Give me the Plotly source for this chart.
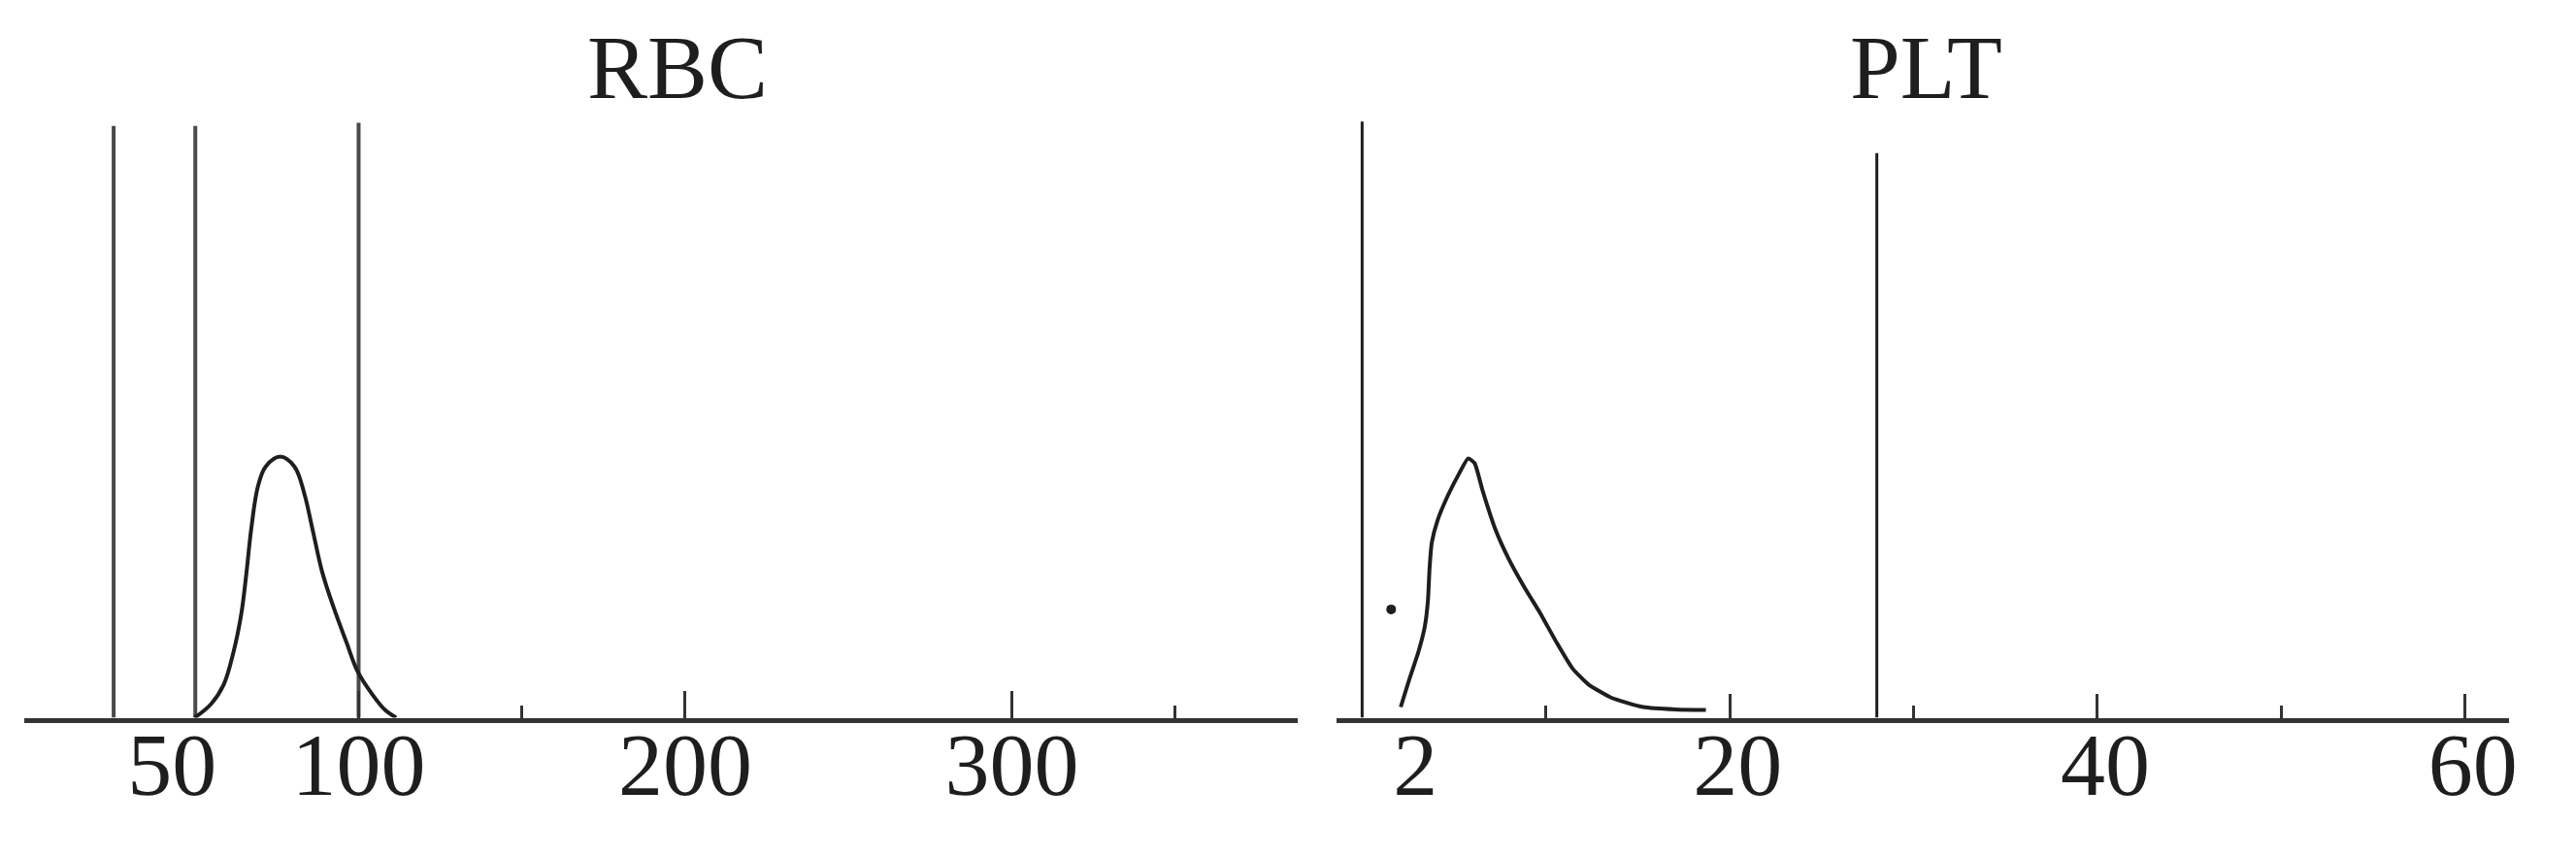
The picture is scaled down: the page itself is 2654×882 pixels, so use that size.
import plotly.graph_objects as go

# RBC histogram (cell volume, fL)
rbc_size = [49.8, 54.8, 58.7, 61.7, 64.1, 65.6, 67.1, 69.1, 71.5, 76.0, 80.4,
            83.4, 85.9, 88.8, 92.3, 96.3, 99.7, 104.1, 108.1, 111.5]
rbc_count = [0.0, 2.3, 5.6, 11.1, 17.6, 24.2, 31.8, 38.9, 42.4, 44.1, 42.4,
             37.8, 31.8, 24.7, 18.7, 12.7, 7.8, 4.0, 1.3, 0.0]
rbc_discriminators = [25, 50, 100]
rbc_discriminator_tops = [100.0, 100.0, 100.5]
rbc_tick_vals = [100, 200, 300]
rbc_minor_vals = [150, 350]

# PLT histogram
plt_size = [2.10, 2.54, 3.06, 3.41, 3.58, 3.67, 3.79, 4.11, 4.63, 5.25, 5.77,
            6.12, 6.56, 7.25, 7.96, 8.83, 9.70, 10.58, 11.45, 12.32, 13.54,
            15.29, 17.04, 18.70]
plt_count = [1.8, 6.2, 11.1, 15.4, 19.8, 25.3, 29.6, 33.4, 37.3, 41.1, 43.8,
             43.0, 38.3, 31.8, 26.9, 22.0, 17.6, 12.7, 8.3, 5.6, 3.4,
             1.8, 1.4, 1.3]
plt_discriminators = [0, 28]
plt_discriminator_tops = [100.7, 95.4]
plt_dot_x = [1.58]
plt_dot_y = [18.3]
plt_tick_vals = [20, 40, 60]
plt_minor_vals = [10, 30, 50]

FONT = "Liberation Serif, Times New Roman, serif"
INK = "#1e1e1e"
AXIS = "#333"

# the page body adds an 8px margin, so the figure is 8px smaller each way
W, H, OFF = 2646, 874, 8


def fx(px):
    return (px - OFF) / W


def fy(py):
    return 1 - (py - OFF) / H


def vlines(xs, tops):
    x, y = [], []
    for xv, top in zip(xs, tops):
        x += [xv, xv, None]
        y += [0, top, None]
    return x, y


fig = go.Figure()

vx, vy = vlines(rbc_discriminators, rbc_discriminator_tops)
fig.add_trace(go.Scatter(x=vx, y=vy, mode="lines", xaxis="x", yaxis="y",
                         line=dict(color="#4a4a4a", width=4)))
fig.add_trace(go.Scatter(x=rbc_size, y=rbc_count, mode="lines", xaxis="x", yaxis="y",
                         line=dict(color=INK, width=4, shape="spline", smoothing=1.0)))

vx, vy = vlines(plt_discriminators, plt_discriminator_tops)
fig.add_trace(go.Scatter(x=vx, y=vy, mode="lines", xaxis="x2", yaxis="y2",
                         line=dict(color=INK, width=3)))
fig.add_trace(go.Scatter(x=plt_size, y=plt_count, mode="lines", xaxis="x2", yaxis="y2",
                         line=dict(color=INK, width=4, shape="spline", smoothing=0.5)))
fig.add_trace(go.Scatter(x=plt_dot_x, y=plt_dot_y, mode="markers", xaxis="x2", yaxis="y2",
                         marker=dict(color=INK, size=10)))

# empty traces so the label-only overlay axes get drawn
fig.add_trace(go.Scatter(x=[50], y=[None], xaxis="x3", yaxis="y", hoverinfo="skip"))
fig.add_trace(go.Scatter(x=[2], y=[None], xaxis="x4", yaxis="y2", hoverinfo="skip"))

tick_font = dict(family=FONT, size=92, color=INK)
axis_common = dict(
    showgrid=False, zeroline=False, showline=True, linewidth=4.5, linecolor=AXIS,
    ticks="inside", tickwidth=3, tickcolor=AXIS, tickfont=tick_font,
    tickmode="array", ticklabelstandoff=-36, fixedrange=True,
)
label_only = dict(
    side="bottom", showgrid=False, zeroline=False, showline=False, ticks="",
    tickmode="array", tickfont=tick_font, ticklabelstandoff=-14, fixedrange=True,
)
ydom = [fy(739.5), fy(99.15)]
rbc_range = [-2.5, 387.5]
plt_range = [-1.4, 62.4]

fig.update_layout(
    width=W, height=H,
    margin=dict(l=0, r=0, t=0, b=0),
    paper_bgcolor="white", plot_bgcolor="white",
    showlegend=False,
    xaxis=dict(axis_common, domain=[fx(24.6), fx(1341)], range=rbc_range,
               anchor="y", tickvals=rbc_tick_vals, ticklen=28,
               minor=dict(tickvals=rbc_minor_vals, ticks="inside", ticklen=13,
                          tickwidth=3, tickcolor=AXIS)),
    yaxis=dict(domain=ydom, range=[0, 105], visible=False, fixedrange=True, anchor="x"),
    xaxis2=dict(axis_common, domain=[fx(1381), fx(2593)], range=plt_range,
                anchor="y2", tickvals=plt_tick_vals, ticklen=25, ticklabelshift=8,
                minor=dict(tickvals=plt_minor_vals, ticks="inside", ticklen=13,
                           tickwidth=3, tickcolor=AXIS)),
    yaxis2=dict(domain=ydom, range=[0, 105], visible=False, fixedrange=True, anchor="x2"),
    # labels that sit beside a discriminator line rather than on a tick
    xaxis3=dict(label_only, overlaying="x", anchor="y", range=rbc_range,
                tickvals=[50], ticktext=["50"], ticklabelshift=-24),
    xaxis4=dict(label_only, overlaying="x2", anchor="y2", range=plt_range,
                tickvals=[2], ticktext=["2"], ticklabelshift=17),
    annotations=[
        dict(text="RBC", x=fx(700), y=fy(70), xref="paper", yref="paper",
             xanchor="center", yanchor="middle", showarrow=False,
             font=dict(family=FONT, size=93, color=INK)),
        dict(text="PLT", x=fx(1990), y=fy(70), xref="paper", yref="paper",
             xanchor="center", yanchor="middle", showarrow=False,
             font=dict(family=FONT, size=93, color=INK)),
    ],
)

fig.write_html("out.html")
